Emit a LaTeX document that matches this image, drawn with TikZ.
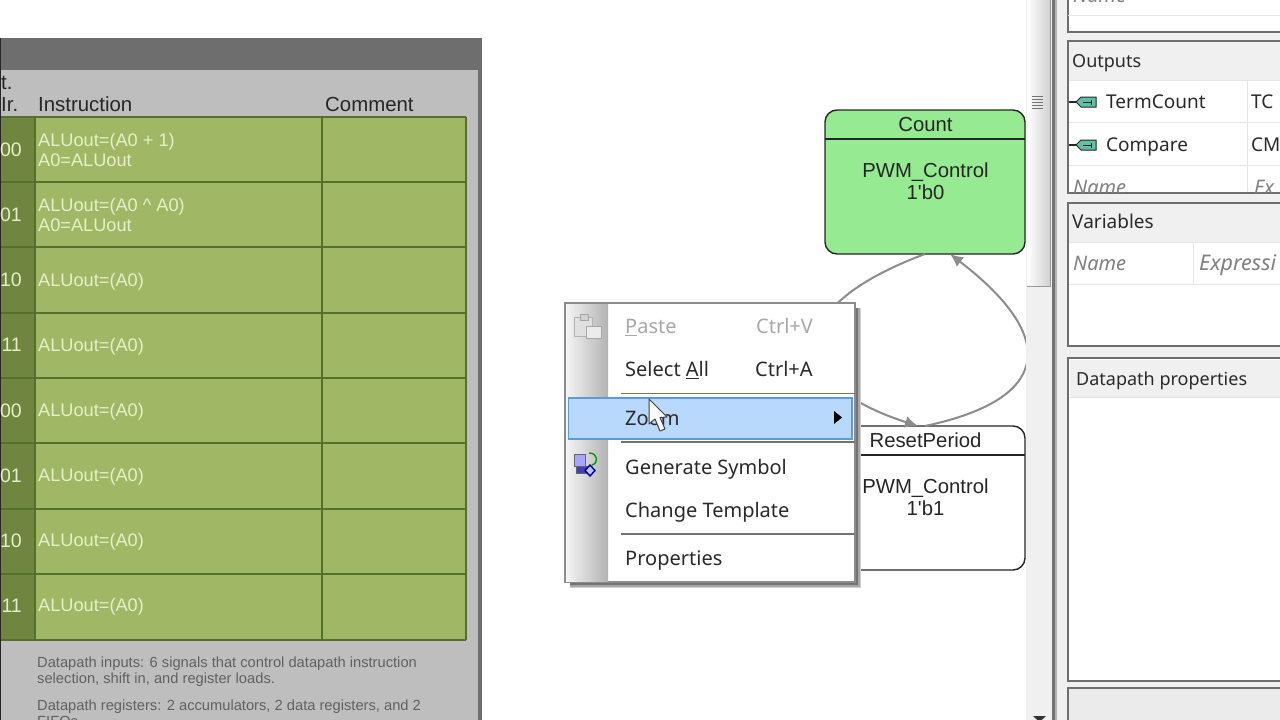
\documentclass[tikz,border=0pt]{standalone}
\usepackage{fontspec}
\setmainfont{Liberation Sans}
\newfontfamily\uifont{Noto Sans}
\usetikzlibrary{arrows.meta,shadings}
\definecolor{panelgray}{HTML}{BEBEBE}
\definecolor{headgray}{HTML}{6E6E6E}
\definecolor{cellgreen}{HTML}{A0B866}
\definecolor{addrgreen}{HTML}{6F8540}
\definecolor{linegreen}{HTML}{55702A}
\definecolor{celltext}{HTML}{E6EFC8}
\definecolor{stategreen}{HTML}{95EA92}
\definecolor{edgegray}{HTML}{8C8C8C}
\definecolor{uibg}{HTML}{F0F0F0}
\definecolor{uiline}{HTML}{6E6E6E}
\definecolor{hilite}{HTML}{B8D9FB}
\definecolor{hiliteb}{HTML}{5A9ADD}
\definecolor{uitext}{HTML}{2A2A2A}
\definecolor{distext}{HTML}{A8A8A8}
\definecolor{pinteal}{HTML}{5FBFA8}
\tikzset{
  addr/.style={font=\fontsize{19.5}{20}\selectfont,text=celltext,inner sep=0pt,anchor=east},
  cell/.style={font=\fontsize{18.2}{20}\selectfont,text=celltext,inner sep=0pt,anchor=west,align=left},
  head/.style={font=\fontsize{20.4}{20}\selectfont,text=black!85,inner sep=0pt,anchor=west},
  note/.style={font=\fontsize{14.7}{16.5}\selectfont,text=black!62,inner sep=0pt,anchor=north west,align=left},
  statebox/.style={draw=black!85,line width=1.4pt,rounded corners=12pt,minimum width=200pt,minimum height=144pt,inner sep=0pt,outer sep=0pt},
  statetxt/.style={font=\fontsize{20.3}{22}\selectfont,text=black!85,inner sep=0pt,align=center},
  conn/.style={draw=edgegray,line width=2pt},
  connarrow/.style={conn,-{Latex[length=13pt,width=12pt]}},
  menut/.style={font=\uifont\fontsize{20}{20}\selectfont,text=uitext,inner sep=0pt,anchor=west,text height=15pt,text depth=5pt},
  menud/.style={menut,text=distext},
  uit/.style={font=\uifont\fontsize{19}{19}\selectfont,text=uitext,inner sep=0pt,anchor=west,text height=15pt,text depth=5pt},
  uis/.style={uit,font=\uifont\fontsize{18}{18}\selectfont},
  uii/.style={font=\uifont\itshape\fontsize{20}{20}\selectfont,text=black!50,inner sep=0pt,anchor=west,text height=15pt,text depth=5pt},
  uipanel/.style={draw=uiline,line width=1.6pt,fill=white},
  rowline/.style={draw=black!10,line width=1pt},
  sep/.style={draw=black!55,line width=1.2pt},
}
\begin{document}
\begin{tikzpicture}[x=1pt,y=-1pt]
\useasboundingbox (0,0) rectangle (1280,720);
\clip (0,0) rectangle (1280,720);
\fill[white] (0,0) rectangle (1280,720);
% ---------- left document ----------
\fill[panelgray] (0,38) rectangle (482,720);
\fill[headgray] (0,38) rectangle (482,70);
\fill[headgray] (478,38) rectangle (482,720);
\fill[black!85] (0,38) rectangle (1,720);
\fill[cellgreen] (35,117) rectangle (466,640);
\fill[addrgreen] (1,117) rectangle (35,640);
\foreach \yy in {117,182,247,313,378,443,509,574,640}
  \draw[linegreen,line width=1.6pt] (1,\yy) -- (466,\yy);
\foreach \xx in {35,322,466}
  \draw[linegreen,line width=1.6pt] (\xx,117) -- (\xx,640);
\node[head] (lt) at (1,83) {t.};
\node[head] (lr) at (1,104.5) {Ir.};
\node[head] (linstr) at (38,104.5) {Instruction};
\node[head] (lcomm) at (325,104.5) {Comment};
\node[addr] (a0) at (22,150) {00};
\node[addr] (a1) at (22,215) {01};
\node[addr] (a2) at (22,280) {10};
\node[addr] (a3) at (22,345) {11};
\node[addr] (a4) at (22,411) {00};
\node[addr] (a5) at (22,476) {01};
\node[addr] (a6) at (22,541) {10};
\node[addr] (a7) at (22,606) {11};
\node[cell] (c0) at (38,149.5) {ALUout=(A0 + 1)\\A0=ALUout};
\node[cell] (c1) at (38,214.5) {ALUout=(A0 \textasciicircum\ A0)\\A0=ALUout};
\node[cell] (c2) at (38,282) {ALUout=(A0)};
\node[cell] (c3) at (38,347) {ALUout=(A0)};
\node[cell] (c4) at (38,412) {ALUout=(A0)};
\node[cell] (c5) at (38,477) {ALUout=(A0)};
\node[cell] (c6) at (38,542) {ALUout=(A0)};
\node[cell] (c7) at (38,607) {ALUout=(A0)};
\node[note] (n1) at (37,656.5) {Datapath inputs: 6 signals that control datapath instruction\\selection, shift in, and register loads.};
\node[note] (n2) at (37,699.5) {Datapath registers: 2 accumulators, 2 data registers, and 2\\FIFOs.};
% ---------- state diagram ----------
\node[statebox,fill=stategreen,anchor=north west] (count) at (825,110) {};
\draw[black!85,line width=1.4pt] (825,139) -- (1025,139);
\node[statetxt] (counth) at (925.5,125) {Count};
\node[statetxt] (countb) at (925.5,181.5) {PWM\_Control\\1\textquotesingle b0};
\node[statebox,fill=white,anchor=north west] (reset) at (825,426) {};
\draw[black!85,line width=1.4pt] (825,455) -- (1025,455);
\node[statetxt] (reseth) at (925.5,440) {ResetPeriod};
\node[statetxt] (resetb) at (925.5,497.5) {PWM\_Control\\1\textquotesingle b1};
\draw[connarrow] (count.south) .. controls (775,310) and (790,385) .. ([xshift=-7pt]reset.north);
\draw[connarrow] (reset.north) .. controls (1048,400) and (1062,340) .. ([xshift=25pt]count.south);
% ---------- scrollbar ----------
\fill[uibg] (1026,0) rectangle (1052,720);
\shade[left color=white,right color=black!18] (1027,0) rectangle (1050,286);
\draw[black!40,line width=1pt] (1027,286) -- (1050,286) -- (1050,0);
\foreach \yy in {96,99,102,105,108} \draw[black!55,line width=1pt] (1032,\yy) -- (1043,\yy);
\fill[black!80] (1033,716) -- (1046,716) -- (1039.5,722) -- cycle;
% ---------- right panels ----------
\fill[uibg] (1052,0) rectangle (1280,720);
\fill[black!55] (1052,0) rectangle (1055,720);
\fill[black!30] (1055,0) rectangle (1057,720);
\draw[uipanel] (1068,-5) rectangle (1290,32);
\draw[rowline] (1068,15) -- (1290,15);
\node[uii] (topname) at (1073,-3) {Name};
% outputs
\draw[uipanel] (1068,41) rectangle (1290,193);
\fill[uibg] (1069,42) rectangle (1290,80);
\draw[rowline] (1069,80) -- (1280,80);
\draw[rowline] (1069,122) -- (1280,122);
\draw[rowline] (1069,165) -- (1280,165);
\draw[rowline] (1247,80) -- (1247,192);
\node[uis] (outp) at (1072,62.5) {Outputs};
\node[uit] (tc) at (1106,103.5) {TermCount};
\node[uit] (tcv) at (1251,103.5) {TC};
\node[uit] (cmp) at (1106,146.5) {Compare};
\node[uit] (cmpv) at (1251,146.5) {CM};
\begin{scope}
\clip (1069,166) rectangle (1280,192);
\node[uii] (oname) at (1073,189.5) {Name};
\node[uii] (oex) at (1254,189.5) {Ex};
\end{scope}
\foreach \yy in {102,145}{
  \draw[black!85,line width=1.2pt] (1069,\yy) -- (1076,\yy);
  \draw[black!85,line width=1pt,fill=pinteal] (1076,\yy) -- (1081,\yy-5) -- (1096,\yy-5) -- (1096,\yy+5) -- (1081,\yy+5) -- cycle;
  \draw[black!85,line width=1pt] (1083,\yy) -- (1091,\yy);
  \draw[black!85,line width=1pt] (1091,\yy-2.5) -- (1091,\yy+2.5);
}
% variables
\draw[uipanel] (1068,203) rectangle (1290,346);
\fill[uibg] (1069,204) rectangle (1290,242);
\draw[rowline] (1069,242) -- (1280,242);
\draw[rowline] (1069,284) -- (1280,284);
\draw[rowline] (1193,242) -- (1193,284);
\node[uit] (vars) at (1072,223.5) {Variables};
\node[uii] (vname) at (1073,265) {Name};
\node[uii,font=\uifont\itshape\fontsize{21.5}{21.5}\selectfont] (vexpr) at (1199,265) {Expressi};
% datapath properties
\draw[uipanel,line width=2.2pt] (1068,358) rectangle (1290,681);
\fill[uibg] (1069.5,359.5) rectangle (1290,397);
\draw[rowline] (1069,397) -- (1280,397);
\node[uis] (dprop) at (1076,380) {Datapath properties};
\fill[black!8] (1068,688) rectangle (1290,725);
\draw[uiline,line width=1.6pt] (1068,720) -- (1068,688) -- (1290,688);
% ---------- context menu ----------
\fill[black!18] (570,308) rectangle (861,588);
\fill[black!35] (570,308) rectangle (859.5,586.5);
\fill[black!55] (570,308) rectangle (858,585);
\node[draw=black!45,line width=1.2pt,fill=white,minimum width=290pt,minimum height=279pt,inner sep=0pt,outer sep=0pt,anchor=north west] (menu) at (565,303) {};
\shade[left color=black!4,right color=black!30] (566,304) rectangle (608,581);
\draw[sep] (621,393.5) -- (855,393.5);
\draw[sep] (621,442) -- (855,442);
\draw[sep] (621,534) -- (855,534);
\draw[hiliteb,line width=1.2pt,fill=hilite] (568.5,398) rectangle (852,439);
\node[menud] (mpaste) at (625,328.5) {\underline{P}aste};
\node[menud] (mctrlv) at (756,328.5) {Ctrl+V};
\node[menut] (msel) at (625,371.5) {Select \underline{A}ll};
\node[menut] (mctrla) at (755,371.5) {Ctrl+A};
\node[menut] (mzoom) at (625,420) {Zoom};
\fill[black] (834,411) -- (842,417.5) -- (834,424) -- cycle;
\node[menut] (mgen) at (625,469) {Generate Symbol};
\node[menut] (mtemp) at (625,512) {Change Template};
\node[menut] (mprop) at (625,560) {Properties};
% paste icon
\draw[black!30,fill=black!12,line width=1pt] (574,317) rectangle (592,336);
\draw[black!35,fill=black!18,line width=1pt] (580,314) rectangle (588,320);
\draw[black!35,fill=black!8,line width=1pt] (586,326) rectangle (601,338);
% generate symbol icon
\draw[black!60,fill=blue!35!white,line width=.8pt] (574,454) rectangle (585,466);
\draw[black!60,fill=blue!50!gray,line width=.8pt] (576,466) rectangle (588,473);
\draw[green!60!black,line width=1.4pt] (589,453) .. controls (598,453) and (599,463) .. (592,465);
\draw[blue!60!black,fill=blue!25!white,line width=1.4pt] (590,465) -- (595,470.5) -- (590,476) -- (585,470.5) -- cycle;
% cursor
\draw[black!75,fill=white,line width=1pt,line join=round] (649,399) -- (649,424) -- (655,419) -- (660,431) -- (665,429) -- (660,417.5) -- (667,417) -- cycle;
\end{tikzpicture}
\end{document}
